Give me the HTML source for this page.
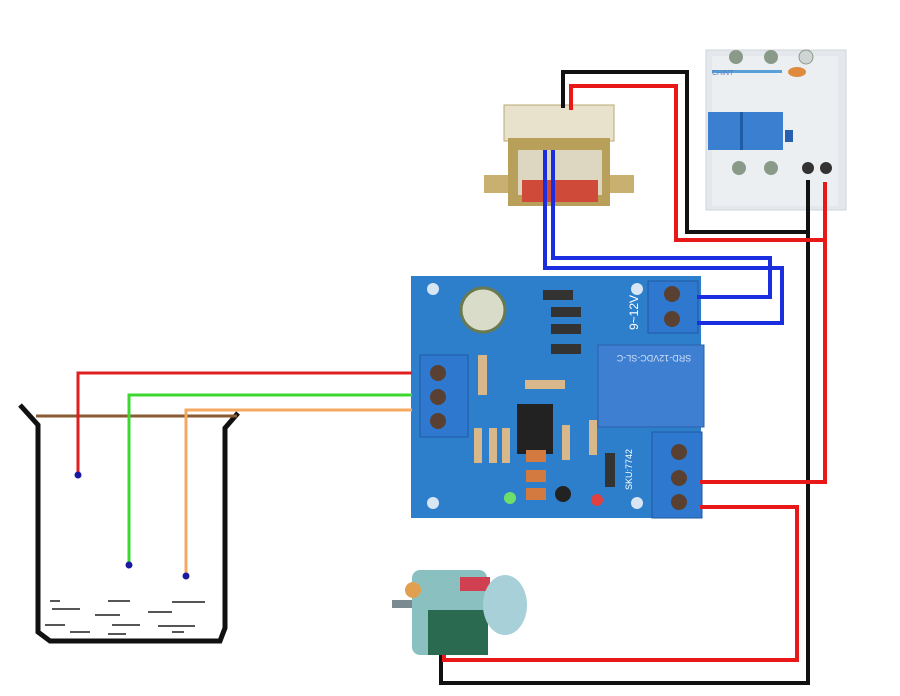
<!DOCTYPE html>
<html><head><meta charset="utf-8"><style>html,body{margin:0;padding:0;background:#fff;width:900px;height:696px;overflow:hidden}</style></head><body>
<svg width="900" height="696" viewBox="0 0 900 696" xmlns="http://www.w3.org/2000/svg" font-family="Liberation Sans, sans-serif">
<rect width="900" height="696" fill="#fff"/>
<!-- breaker -->
<rect x="706" y="50" width="140" height="160" fill="#e4e8ec" stroke="#cfd4d8"/>
<rect x="712" y="56" width="126" height="150" fill="#eceff2"/>
<circle cx="736" cy="57" r="7" fill="#8a9a88"/><circle cx="771" cy="57" r="7" fill="#8a9a88"/><circle cx="806" cy="57" r="7" fill="#cfd4d4" stroke="#8a9a88"/>
<rect x="712" y="70" width="70" height="3" fill="#5aa0d8"/>
<text x="712" y="75" font-size="7" fill="#4a7cc0">CHINT</text>
<ellipse cx="797" cy="72" rx="9" ry="5" fill="#e08a40"/>
<rect x="708" y="112" width="75" height="38" fill="#3a7fd0"/>
<rect x="740" y="112" width="3" height="38" fill="#1f5ca8"/>
<rect x="785" y="130" width="8" height="12" fill="#2a5fb0"/>
<circle cx="739" cy="168" r="7" fill="#8a9a88"/><circle cx="771" cy="168" r="7" fill="#8a9a88"/>
<circle cx="808" cy="168" r="6" fill="#333"/><circle cx="826" cy="168" r="6" fill="#333"/>
<!-- transformer -->
<rect x="504" y="105" width="110" height="36" fill="#e8e2cc" stroke="#b8a870"/>
<rect x="484" y="175" width="150" height="18" fill="#c8b070"/>
<rect x="508" y="138" width="102" height="68" fill="#b8a05a"/>
<rect x="518" y="150" width="84" height="45" fill="#ddd6c0"/>
<rect x="522" y="180" width="76" height="22" fill="#d04a3a"/>
<!-- board -->
<rect x="411" y="276" width="290" height="242" fill="#2d7fcc"/>
<circle cx="433" cy="289" r="6" fill="#d8e6f4"/><circle cx="433" cy="503" r="6" fill="#d8e6f4"/><circle cx="637" cy="289" r="6" fill="#d8e6f4"/><circle cx="637" cy="503" r="6" fill="#d8e6f4"/>
<circle cx="483" cy="310" r="22" fill="#d8dcc8" stroke="#6a7a50" stroke-width="3"/>
<g fill="#333"><rect x="543" y="290" width="30" height="10"/><rect x="551" y="307" width="30" height="10"/><rect x="551" y="324" width="30" height="10"/><rect x="551" y="344" width="30" height="10"/></g>
<rect x="598" y="345" width="106" height="82" fill="#3e7fd2" stroke="#2a60aa"/>
<text x="654" y="355" font-size="9" fill="#d0e0f6" transform="rotate(180 654 355)" text-anchor="middle">SRD-12VDC-SL-C</text>
<rect x="517" y="404" width="36" height="50" fill="#222"/>
<g fill="#d8b88a"><rect x="478" y="355" width="9" height="40"/><rect x="474" y="428" width="8" height="35"/><rect x="489" y="428" width="8" height="35"/><rect x="502" y="428" width="8" height="35"/><rect x="562" y="425" width="8" height="35"/><rect x="589" y="420" width="8" height="35"/><rect x="525" y="380" width="40" height="9"/></g>
<g fill="#d27a40"><rect x="526" y="450" width="20" height="12"/><rect x="526" y="470" width="20" height="12"/><rect x="526" y="488" width="20" height="12"/></g>
<circle cx="510" cy="498" r="6" fill="#6ee06a"/><circle cx="597" cy="500" r="6" fill="#e04040"/><circle cx="563" cy="494" r="8" fill="#222"/>
<rect x="605" y="453" width="10" height="34" fill="#333"/>
<text x="638" y="330" font-size="12" fill="#fff" transform="rotate(-90 638 330)">9~12V</text>
<text x="632" y="490" font-size="9" fill="#fff" transform="rotate(-90 632 490)">SKU:7742</text>
<!-- terminals -->
<rect x="420" y="355" width="48" height="82" fill="#2f78cf" stroke="#1f58a0"/>
<circle cx="438" cy="373" r="8" fill="#5a4030"/><circle cx="438" cy="397" r="8" fill="#5a4030"/><circle cx="438" cy="421" r="8" fill="#5a4030"/>
<rect x="648" y="281" width="50" height="52" fill="#2f78cf" stroke="#1f58a0"/>
<circle cx="672" cy="294" r="8" fill="#5a4030"/><circle cx="672" cy="319" r="8" fill="#5a4030"/>
<rect x="652" y="432" width="50" height="86" fill="#2f78cf" stroke="#1f58a0"/>
<circle cx="679" cy="452" r="8" fill="#5a4030"/><circle cx="679" cy="478" r="8" fill="#5a4030"/><circle cx="679" cy="502" r="8" fill="#5a4030"/>
<!-- wires -->
<g fill="none" stroke-width="4" stroke-linejoin="miter">
<polyline points="563,108 563,72 687,72 687,232 808,232" stroke="#111"/>
<polyline points="808,180 808,683 441,683 441,600" stroke="#111"/>
<polyline points="571,110 571,86 676,86 676,240 825,240" stroke="#e81818"/>
<polyline points="825,182 825,482 700,482" stroke="#e81818"/>
<polyline points="700,507 797,507 797,660 444,660 444,595" stroke="#e81818"/>
<polyline points="545,150 545,268 782,268 782,323 697,323" stroke="#1a2ee0"/>
<polyline points="553,150 553,258 770,258 770,297 697,297" stroke="#1a2ee0"/>
</g>
<!-- motor -->
<rect x="392" y="600" width="26" height="8" fill="#7a8a90"/>
<rect x="412" y="570" width="75" height="85" rx="8" fill="#8ac0c0"/>
<rect x="428" y="610" width="60" height="45" fill="#2a6a50"/>
<rect x="460" y="577" width="30" height="14" fill="#d04050"/>
<ellipse cx="505" cy="605" rx="22" ry="30" fill="#a8d0d8"/>
<circle cx="413" cy="590" r="8" fill="#e0a050"/>
<!-- beaker -->
<g fill="none" stroke="#111" stroke-width="5">
<polyline points="20,405 38,425 38,632 50,641 220,641 225,628 225,428 238,413"/>
</g>
<line x1="36" y1="416" x2="237" y2="416" stroke="#8a5a30" stroke-width="3"/>
<g fill="none" stroke-width="3">
<polyline points="78,475 78,373 412,373" stroke="#e02020"/>
<polyline points="129,565 129,395 412,395" stroke="#3ad830"/>
<polyline points="186,576 186,410 412,410" stroke="#f4a860"/>
</g>
<circle cx="78" cy="475" r="3.5" fill="#1a1aa0"/><circle cx="129" cy="565" r="3.5" fill="#1a1aa0"/><circle cx="186" cy="576" r="3.5" fill="#1a1aa0"/>
<g stroke="#555" stroke-width="2">
<line x1="50" y1="601" x2="60" y2="601"/><line x1="108" y1="601" x2="130" y2="601"/><line x1="172" y1="602" x2="205" y2="602"/>
<line x1="52" y1="609" x2="80" y2="609"/><line x1="95" y1="615" x2="120" y2="615"/><line x1="148" y1="612" x2="172" y2="612"/>
<line x1="45" y1="625" x2="65" y2="625"/><line x1="112" y1="625" x2="140" y2="625"/><line x1="158" y1="626" x2="195" y2="626"/>
<line x1="70" y1="632" x2="90" y2="632"/><line x1="108" y1="634" x2="126" y2="634"/><line x1="172" y1="632" x2="184" y2="632"/>
</g>
</svg>
</body></html>
